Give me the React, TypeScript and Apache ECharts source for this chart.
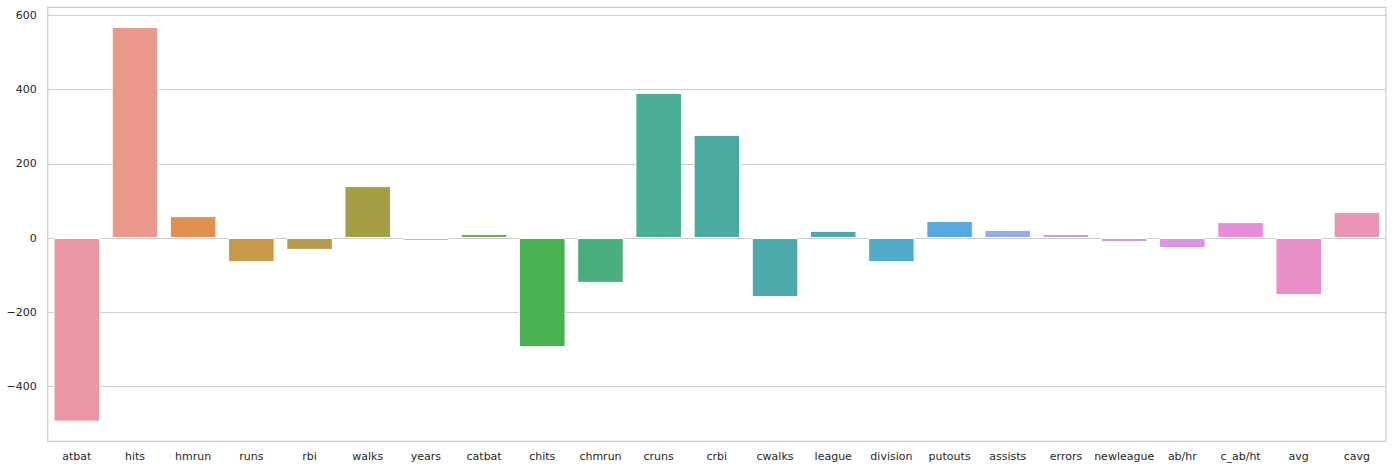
import React, { useEffect, useRef } from "react";
import * as echarts from "echarts";

const categories = [
  "atbat", "hits", "hmrun", "runs", "rbi", "walks", "years", "catbat",
  "chits", "chmrun", "cruns", "crbi", "cwalks", "league", "division",
  "putouts", "assists", "errors", "newleague", "ab/hr", "c_ab/ht", "avg", "cavg",
];

const values = [
  -495, 569, 59, -65, -32, 140, -7, 11,
  -294, -121, 391, 278, -159, 19, -65,
  46, 22, 11, -11, -27, 43, -154, 70,
];

const barColors = [
  "#EA96A3", "#E9988A", "#E0914E", "#C79A4A", "#B49C4A", "#A49F46", "#94A146", "#7CA846",
  "#49B050", "#49AE7E", "#4AAE94", "#4BABA0", "#4CABAA", "#4DAAB4", "#50ABC6",
  "#56ABDE", "#91AEE8", "#B0A6E8", "#C59FE8", "#DC93E8", "#E68DD9", "#E88FC8", "#E895B5",
];

const yTicks = [-400, -200, 0, 200, 400, 600];
const yMin = -548;
const yMax = 622;

export default function App() {
  const ref = useRef<HTMLDivElement>(null);
  useEffect(() => {
    document.body.style.margin = "0";
    if (!ref.current) return;
    const chart = echarts.init(ref.current, undefined, { renderer: "svg" });
    const font = "DejaVu Sans";
    chart.setOption({
      animation: false,
      backgroundColor: "#ffffff",
      grid: {
        left: 47.7,
        right: 7,
        top: 7.3,
        bottom: 27.7,
        show: true,
        borderColor: "#cccccc",
        borderWidth: 1.25,
        backgroundColor: "transparent",
      },
      xAxis: {
        type: "category",
        data: categories,
        axisLine: { show: false },
        axisTick: { show: false },
        splitLine: { show: false },
        axisLabel: {
          interval: 0,
          color: "#262626",
          fontFamily: font,
          fontSize: 11,
          margin: 10,
        },
      },
      yAxis: {
        type: "value",
        min: yMin,
        max: yMax,
        axisLine: { show: false },
        axisTick: { show: false },
        splitLine: { show: true, lineStyle: { color: "#cccccc", width: 1 } },
        axisLabel: {
          showMinLabel: false,
          showMaxLabel: false,
          color: "#262626",
          fontFamily: font,
          fontSize: 11,
          margin: 11,
          formatter: (v: number) =>
            yTicks.includes(v) ? (v < 0 ? "\u2212" + Math.abs(v) : String(v)) : "",
        },
      },
      series: [
        {
          type: "bar",
          barWidth: "80%",
          data: values.map((v, i) => ({
            value: v,
            itemStyle: { color: barColors[i] },
          })),
          itemStyle: { borderColor: "#ffffff", borderWidth: 1 },
        },
      ],
    });
    return () => chart.dispose();
  }, []);
  return <div ref={ref} style={{ width: 1393, height: 469 }} />;
}
